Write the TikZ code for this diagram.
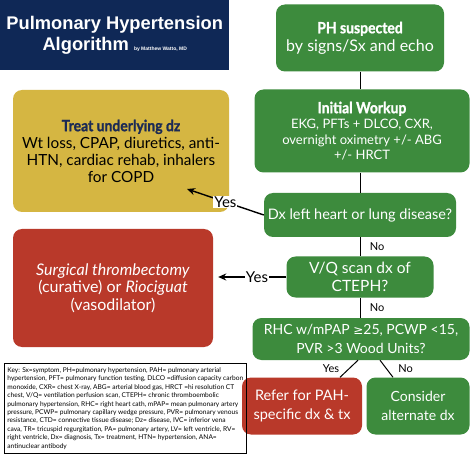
\documentclass[tikz,border=0pt]{standalone}
\usepackage{fontspec}
\setmainfont{Lato}
\newfontfamily\headfont[FakeStretch=0.9,FakeBold=1.2]{Lato}
\newfontfamily\titlefont{Liberation Sans}
\newfontfamily\symfont{DejaVu Sans}
\usetikzlibrary{arrows.meta}
\definecolor{phnavy}{HTML}{0F2856}
\definecolor{phgreen}{HTML}{3D8B3D}
\definecolor{phgold}{HTML}{D5B642}
\definecolor{phred}{HTML}{B9392A}
\definecolor{phink}{HTML}{1B2A55}
\tikzset{
  box/.style={rounded corners=9pt, text=white, align=center, inner sep=2pt,
    font=\fontsize{13}{15.5}\selectfont},
  greenbox/.style={box, fill=phgreen},
  redbox/.style={box, fill=phred},
  goldbox/.style={box, fill=phgold, text=black},
  link/.style={draw=black, line width=1pt},
  arr/.style={link, line width=1.4pt, -{Stealth[length=8pt,width=7pt]}},
  biglabel/.style={fill=white, inner sep=1pt, font=\fontsize{15}{15}\selectfont},
  smalllabel/.style={font=\fontsize{11}{11}\selectfont}
}
\newcommand{\hd}[1]{{\headfont\bfseries\fontsize{15.5}{17}\selectfont #1}}
\begin{document}
\begin{tikzpicture}[x=1pt,y=-1pt]
  \useasboundingbox[fill=white] (0,0) rectangle (474,457);
  % title
  \node[fill=phnavy, text=white, anchor=north west, minimum width=229, minimum height=70,
    align=center, font=\titlefont\bfseries\fontsize{18.3}{21}\selectfont] (title) at (0,0)
    {Pulmonary Hypertension\\Algorithm {\fontsize{5}{5}\selectfont by Matthew Watto, MD}};
  % main chain
  \node[greenbox, minimum width=168, minimum height=67, font=\fontsize{16}{18}\selectfont] (ph) at (360,38)
    {\hd{PH suspected}\\by signs/Sx and echo};
  \node[greenbox, minimum width=215, minimum height=83] (init) at (362,131)
    {\hd{Initial Workup}\\EKG, PFTs + DLCO, CXR,\\overnight oximetry +/- ABG\\+/- HRCT};
  \node[greenbox, minimum width=192, minimum height=44, font=\fontsize{14.5}{17}\selectfont] (dx) at (360,215)
    {Dx left heart or lung disease?};
  \node[greenbox, minimum width=147, minimum height=41, font=\fontsize{15.5}{18}\selectfont] (vq) at (360,277)
    {V/Q scan dx of\\CTEPH?};
  \node[greenbox, minimum width=217, minimum height=42, font=\fontsize{14}{19}\selectfont] (rhc) at (361,339)
    {RHC w/mPAP {\symfont\fontsize{12}{12}\selectfont ≥}25, PCWP <15,\\PVR >3 Wood Units?};
  \node[redbox, minimum width=120, minimum height=57, font=\fontsize{14.5}{19}\selectfont] (refer) at (302,406)
    {Refer for PAH-\\specific dx \& tx};
  \node[greenbox, minimum width=103, minimum height=57, font=\fontsize{14}{19}\selectfont] (alt) at (418,406)
    {Consider\\alternate dx};
  % side boxes
  \node[goldbox, minimum width=216, minimum height=122, font=\fontsize{15.3}{17}\selectfont] (treat) at (121,151)
    {\hd{\textcolor{phink}{Treat underlying dz}}\\Wt loss, CPAP, diuretics, anti-\\HTN, cardiac rehab, inhalers\\for COPD};
  \node[redbox, minimum width=200, minimum height=118, font=\fontsize{16}{17.5}\selectfont] (surg) at (113,288)
    {\textit{Surgical thrombectomy}\\(curative) or \textit{Riociguat}\\(vasodilator)};
  \coordinate (treattip) at (187,189);
  % key
  \node[draw, line width=0.9pt, anchor=north west, minimum width=232, minimum height=90,
    align=left, inner sep=3pt, font=\fontsize{6.6}{8.4}\selectfont] (key) at (4,363)
    {Key: Sx=symptom, PH=pulmonary hypertension, PAH= pulmonary arterial\\
     hypertension, PFT= pulmonary function testing, DLCO =diffusion capacity carbon\\
     monoxide, CXR= chest X-ray, ABG= arterial blood gas, HRCT =hi resolution CT\\
     chest, V/Q= ventilation perfusion scan, CTEPH= chronic thromboembolic\\
     pulmonary hypertension, RHC= right heart cath, mPAP= mean pulmonary artery\\
     pressure, PCWP= pulmonary capillary wedge pressure, PVR= pulmonary venous\\
     resistance, CTD= connective tissue disease; Dz= disease, IVC= inferior vena\\
     cava, TR= tricuspid regurgitation, PA= pulmonary artery, LV= left ventricle, RV=\\
     right ventricle, Dx= diagnosis, Tx= treatment, HTN= hypertension, ANA=\\
     antinuclear antibody};
  % connectors
  \draw[link] (ph.south) -- (ph.south |- init.north);
  \draw[link] (ph.south |- init.south) -- (dx.north);
  \draw[link] (dx.south) -- node[smalllabel, right=6pt] {No} (vq.north);
  \draw[link] (vq.south) -- node[smalllabel, right=6pt] {No} (vq.south |- rhc.north);
  \draw[arr] (dx.west) -- node[biglabel] {Yes} (treattip);
  \draw[arr, shorten >=5pt] (vq.west) -- node[biglabel, pos=0.4] {Yes} (vq.west -| surg.east);
  \draw[link] ([xshift=-3pt]rhc.south) -- node[smalllabel, left=6pt] {Yes} ([xshift=38pt]refer.north);
  \draw[link] ([xshift=19pt]rhc.south) -- node[smalllabel, right=8pt] {No} ([xshift=-25pt]alt.north);
\end{tikzpicture}
\end{document}
